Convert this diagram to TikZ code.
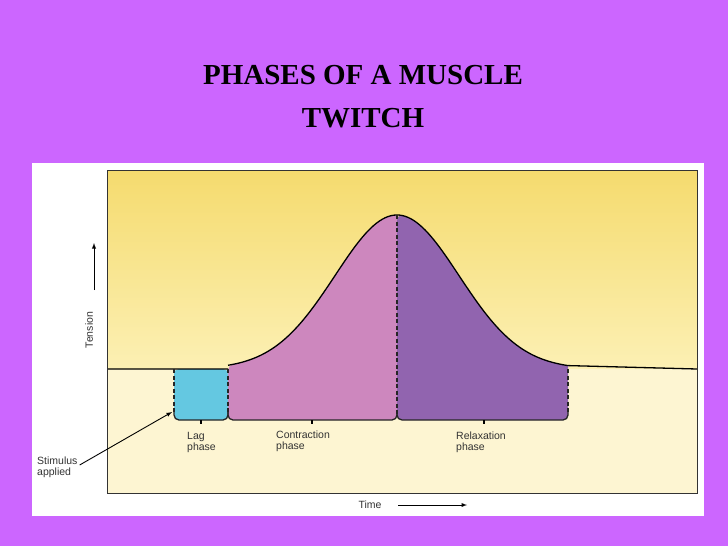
\documentclass[tikz,border=0pt]{standalone}
\usepackage{fontspec}
\setmainfont{Liberation Sans}
\newfontfamily\titlefont{Liberation Serif}
\definecolor{bgpurple}{RGB}{204,102,255}
\definecolor{ytop}{RGB}{245,219,110}
\definecolor{ybot}{RGB}{252,240,180}
\definecolor{cream}{RGB}{253,245,210}
\definecolor{lagc}{RGB}{100,200,225}
\definecolor{conc}{RGB}{205,135,190}
\definecolor{relc}{RGB}{145,100,175}
\begin{document}
\begin{tikzpicture}[x=1pt,y=-1pt,
  lbl/.style={font=\fontsize{10.5}{11}\selectfont, text=black!80, align=left, inner sep=0pt, anchor=north west},
  dsh/.style={dashed, dash pattern=on 4pt off 2.5pt, line width=1.2pt, black!85},
  bot/.style={line width=1.3pt, black!85, rounded corners=5pt}]
\useasboundingbox (0,0) rectangle (728,546);
\fill[bgpurple] (0,0) rectangle (728,546);
\node[font=\titlefont\bfseries\fontsize{29}{43}\selectfont, align=center] (title) at (363,97) {PHASES OF A MUSCLE\\TWITCH};
\fill[white] (32,163) rectangle (704,516);
\shade[top color=ytop, bottom color=ybot] (107,170) rectangle (697,369);
\fill[cream] (107,369) rectangle (697,493);
\def\cv#1{369-154*exp(-((#1-397)/62)^2/2)}
\fill[lagc, rounded corners=5pt] (174,369) -- (174,420) -- (228,420) -- (228,369) -- cycle;
\fill[conc] plot[domain=228:397,samples=60] (\x,{\cv{\x}}) [rounded corners=5pt] -- (397,420) -- (228,420) -- cycle;
\fill[relc] plot[domain=397:568,samples=60] (\x,{\cv{\x}}) [rounded corners=5pt] -- (568,420) -- (397,420) -- cycle;
\draw[line width=1.3pt] (107,369) -- (228,369) plot[domain=228:568,samples=120] (\x,{\cv{\x}}) -- (697,369);
\draw[dsh] (174,369) -- (174,414);
\draw[dsh] (228,369) -- (228,414);
\draw[dsh] (397,215) -- (397,414);
\draw[dsh] (568,369) -- (568,414);
\draw[bot] (174,412) -- (174,420) -- (228,420) -- (228,412);
\draw[bot] (228,412) -- (228,420) -- (397,420) -- (397,412);
\draw[bot] (397,412) -- (397,420) -- (568,420) -- (568,412);
\foreach \t in {201,312,484} \draw[line width=1.2pt] (\t,420) -- (\t,424);
\draw[line width=0.9pt, black!80] (107,170) rectangle (697,493);
\node[lbl] (lag) at (187,432) {Lag\\phase};
\node[lbl] (con) at (276,431) {Contraction\\phase};
\node[lbl] (rel) at (456,432) {Relaxation\\phase};
\node[lbl] (stim) at (37,457) {Stimulus\\applied};
\coordinate (stimtip) at (172,412);
\draw[-latex, line width=0.9pt] (stim.north east) ++(2,8) -- (stimtip);
\node[lbl, rotate=90, anchor=center] (ten) at (89,330) {Tension};
\coordinate (t1) at (94,290);
\coordinate (t2) at (94,243);
\draw[-latex, line width=0.9pt] (t1) -- (t2);
\node[lbl, anchor=center] (time) at (370,505) {Time};
\coordinate (h1) at (398,505);
\coordinate (h2) at (467,505);
\draw[-latex, line width=0.9pt] (h1) -- (h2);
\end{tikzpicture}
\end{document}
